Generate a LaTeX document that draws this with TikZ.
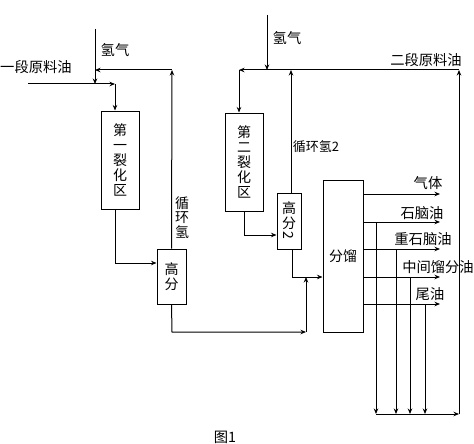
\documentclass[tikz,border=0pt]{standalone}
\usepackage{fontspec}
\setmainfont{Noto Sans CJK SC}
\usetikzlibrary{arrows.meta}
\begin{document}
\begin{tikzpicture}[x=1pt,y=-1pt,line width=1pt,
  >={Stealth[length=5.5pt,width=4.5pt]},
  unit/.style={draw,line width=1pt,inner sep=0pt,align=center,
    font=\fontsize{14}{15}\selectfont},
  lbl/.style={inner sep=0pt,font=\fontsize{14.3}{15}\selectfont}]
\useasboundingbox (0,0) rectangle (474,444);
% units
\node[unit,minimum width=38pt,minimum height=98pt] (r1) at (120,160) {第\\一\\裂\\化\\区};
\node[unit,minimum width=38pt,minimum height=98pt] (r2) at (244,162) {第\\二\\裂\\化\\区};
\node[unit,minimum width=29pt,minimum height=55pt] (hp1) at (171.5,276.5) {高\\分};
\node[unit,minimum width=24pt,minimum height=56pt] (hp2) at (289,221) {高\\分\\[-3pt]\rotatebox[origin=c]{-90}{2}};
\node[unit,minimum width=40pt,minimum height=152pt] (frac) at (343,256) {分馏};
% labels
\node[lbl] (l1) at (36,67) {一段原料油};
\node[lbl] (l2) at (115,50) {氢气};
\node[lbl] (l3) at (287,38) {氢气};
\node[lbl] (l4) at (426,60) {二段原料油};
\node[lbl,align=center,font=\fontsize{14}{14.5}\selectfont] (l5) at (182,217.5) {循\\环\\氢};
\node[lbl,font=\fontsize{13}{14}\selectfont] (l6) at (316,147) {循环氢2};
\node[lbl] (l7) at (428,183) {气体};
\node[lbl] (l8) at (422,213) {石脑油};
\node[lbl] (l9) at (423,239) {重石脑油};
\node[lbl] (l10) at (438,267) {中间馏分油};
\node[lbl] (l11) at (430,294) {尾油};
\node[lbl] (cap) at (225,437) {图1};
% coordinates
\coordinate (h1top) at (95,29);
\coordinate (f1s) at (28,84);
\coordinate (A) at (115,84);
\coordinate (R1) at (172,70);
\coordinate (B) at (115,263);
\coordinate (C) at (172,332);
\coordinate (J) at (306,332);
\coordinate (K) at (306,277);
\coordinate (D) at (292,277);
\coordinate (E) at (244,235);
\coordinate (h2top) at (267,15);
\coordinate (G) at (459,414);
\coordinate (Gt) at (459,70);
\coordinate (F) at (239,70);
\coordinate (R2) at (291,70);
\coordinate (o1) at (440,194);
\coordinate (o2) at (440,222);
\coordinate (o3) at (440,249);
\coordinate (o4) at (440,277);
\coordinate (o5) at (440,304);
\coordinate (b2) at (376,222);
\coordinate (b3) at (396,249);
\coordinate (b4) at (410,277);
\coordinate (b5) at (425,304);
\coordinate (Bs) at (376,414);
% stage 1
\draw[->] (h1top) -- (h1top |- A);
\draw[->] (f1s) -- (A);
\draw[->] (A) -- (A |- r1.north);
\draw[->] (hp1.north) -- (R1);
\draw[->] (R1) -- (R1 -| h1top);
\draw[->] (r1.south -| B) -- (B) -- (B -| hp1.west);
\draw[->] (hp1.south) -- (C) -- (J);
\draw[->] (J) -- (K);
% stage 2
\draw[->] (h2top) -- (h2top |- F);
\draw[->] (G) -- (Gt);
\draw[->] (Gt) -- (F);
\draw[->] (F) -- (F |- r2.north);
\draw[->] (hp2.north -| R2) -- (R2);
\draw[->] (r2.south) -- (E) -- (E -| hp2.west);
\draw[->] (hp2.south -| D) -- (D) -- (D -| frac.west);
% products
\foreach \o in {o1,o2,o3,o4,o5}{\draw[->] (frac.east |- \o) -- (\o);}
\foreach \b in {b2,b3,b4,b5}{\draw[->] (\b) -- (\b |- G);}
\draw[->] (Bs) -- (G);
\end{tikzpicture}
\end{document}
